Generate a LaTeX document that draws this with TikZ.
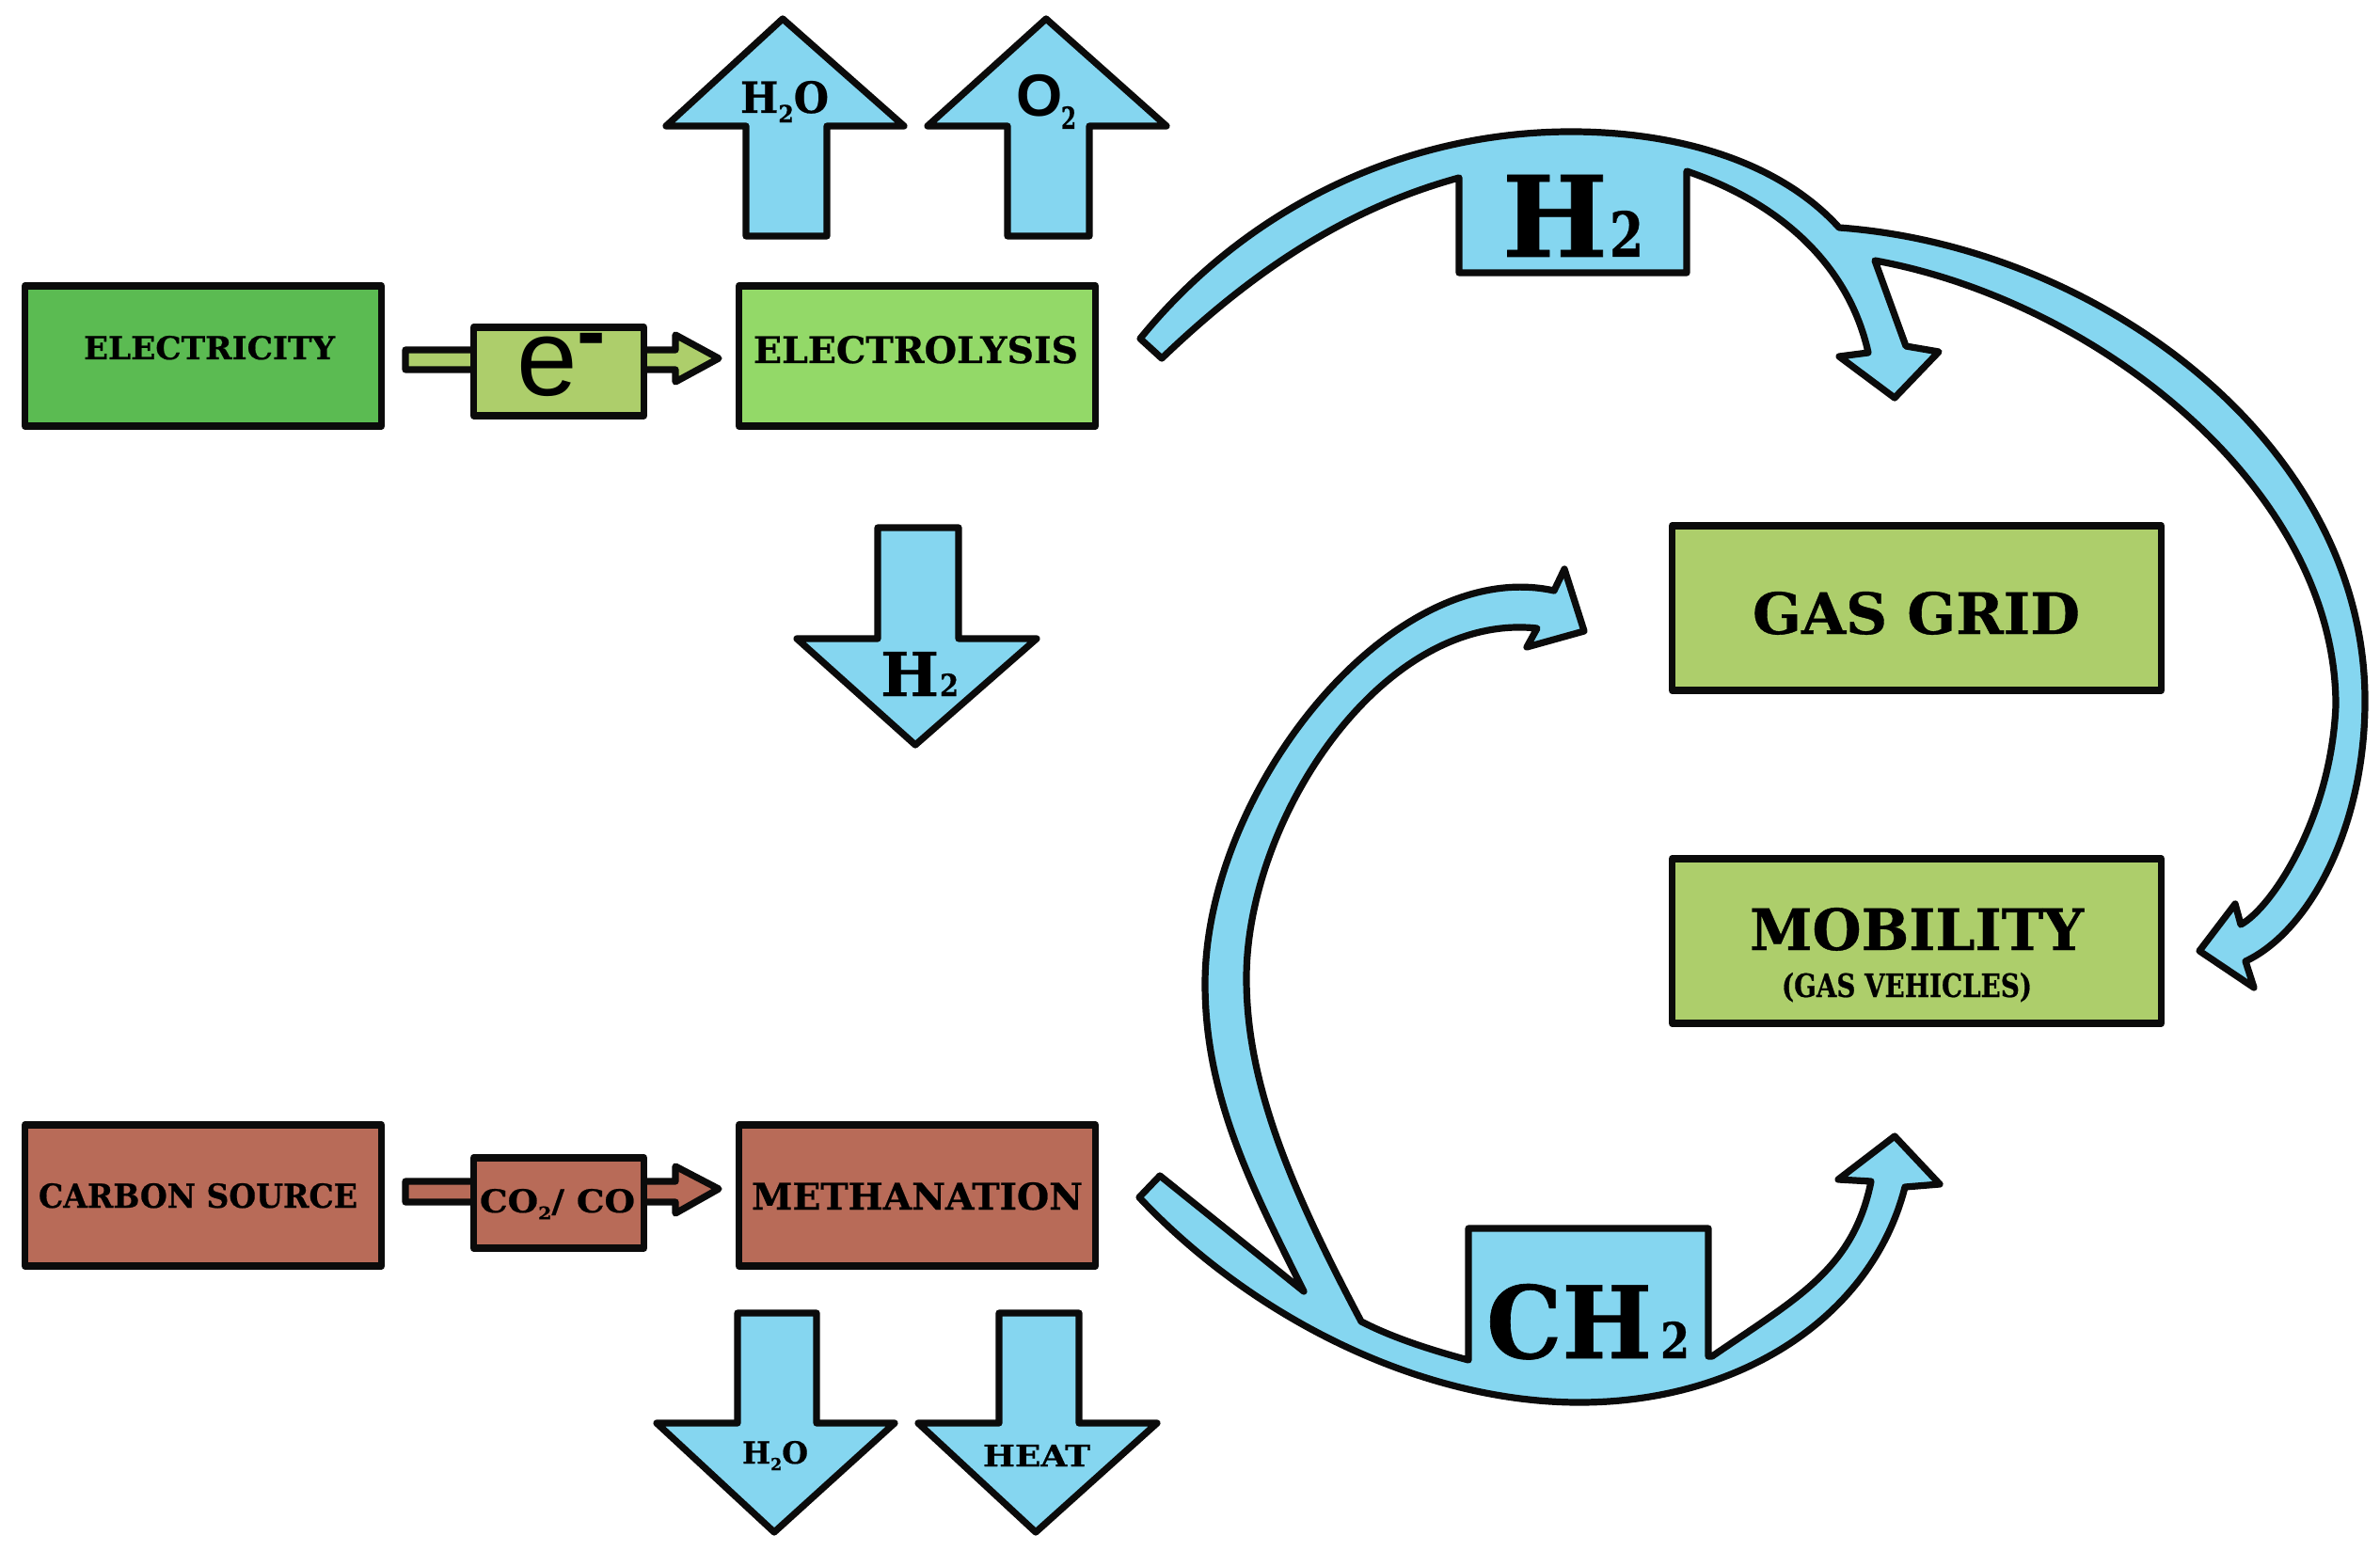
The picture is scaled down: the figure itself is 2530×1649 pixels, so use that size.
\documentclass[tikz,border=0pt]{standalone}
\usepackage{fontspec}
\usepackage{graphicx}
\setmainfont[BoldFeatures={FakeBold=0.6}]{DejaVu Serif}
\newfontfamily\sansf{Liberation Sans}
\newlength\pxu
\setlength\pxu{0.01cm}
\definecolor{flowblue}{HTML}{85D6F0}
\definecolor{darkgreen}{HTML}{5BBB52}
\definecolor{lightgreen}{HTML}{93D968}
\definecolor{olive}{HTML}{ADCE6B}
\definecolor{brick}{HTML}{B86B58}
\definecolor{ink}{HTML}{0B0B0B}
% name, x, baseline y, width, height, text
\newcommand{\lblfit}[6]{\node[lbl] (#1) at (#2,#3) {\resizebox{#4\pxu}{#5\pxu}{\bfseries #6}};}
\newcommand{\subtwo}{\raisebox{-.22em}{\scalebox{.55}{2}}}
\begin{document}
\begin{tikzpicture}[x=0.01cm,y=-0.01cm,
  lbl/.style={anchor=base west,inner sep=0pt,outer sep=0pt,text=black},
  stroke/.style={draw=ink,line width=0.072cm,line join=round,line cap=round},
  box/.style={stroke,rectangle,inner sep=0pt,outer sep=0pt},
  flow/.style={stroke,fill=flowblue}]
\useasboundingbox (0,0) rectangle (2530,1649);

% main process boxes
\node[box,fill=darkgreen,minimum width=3.79cm,minimum height=1.49cm] (electricity) at (216,378.5) {};
\node[box,fill=lightgreen,minimum width=3.79cm,minimum height=1.49cm] (electrolysis) at (975,378.5) {};
\node[box,fill=brick,minimum width=3.79cm,minimum height=1.50cm] (carbon) at (216,1271) {};
\node[box,fill=brick,minimum width=3.79cm,minimum height=1.50cm] (methanation) at (975,1271) {};
\node[box,fill=olive,minimum width=5.20cm,minimum height=1.75cm] (grid) at (2037.5,646.5) {};
\node[box,fill=olive,minimum width=5.20cm,minimum height=1.75cm] (mobility) at (2037.5,1000.5) {};

% small horizontal arrows with their boxes
\draw[stroke,fill=olive] (431,372) -- (718,372) -- (718,356) -- (764,381) -- (718,406) -- (718,393) -- (431,393) -- cycle;
\node[box,fill=olive,minimum width=1.81cm,minimum height=0.94cm] (eminus) at (594,395) {};
\draw[stroke,fill=brick] (431,1256) -- (718,1256) -- (718,1240) -- (764,1264) -- (718,1290) -- (718,1278) -- (431,1278) -- cycle;
\node[box,fill=brick,minimum width=1.81cm,minimum height=0.96cm] (cobox) at (594,1279) {};

% straight block arrows
\draw[flow] (832,20) -- (961,134) -- (879,134) -- (879,251) -- (793,251) -- (793,134) -- (708,134) -- cycle;
\draw[flow] (1112,20) -- (1240,134) -- (1158,134) -- (1158,251) -- (1071,251) -- (1071,134) -- (986,134) -- cycle;
\draw[flow] (933,561) -- (1019,561) -- (1019,679) -- (1102,679) -- (973,792) -- (847,679) -- (933,679) -- cycle;
\draw[flow] (784,1396) -- (868,1396) -- (868,1513) -- (951,1513) -- (823,1629) -- (698,1513) -- (784,1513) -- cycle;
\draw[flow] (1062,1396) -- (1147,1396) -- (1147,1513) -- (1230,1513) -- (1101,1629) -- (976,1513) -- (1062,1513) -- cycle;

% upper H2 flow
\draw[flow] (1212,360)
  .. controls (1330,215) and (1500,140) .. (1670,140)
  .. controls (1780,140) and (1890,170) .. (1955,242)
  .. controls (2230,262) and (2514,470) .. (2514,745)
  .. controls (2514,880) and (2455,990) .. (2387,1022)
  -- (2396,1050) -- (2338,1011) -- (2376,961) -- (2382,983)
  .. controls (2415,965) and (2478,870) .. (2483,750)
  .. controls (2483,520) and (2230,320) .. (1993,277)
  -- (2026,368) -- (2061,374) -- (2014,423) -- (1955,379) -- (1986,375)
  .. controls (1965,280) and (1890,215) .. (1793,182)
  -- (1793,290) -- (1551,290) -- (1551,189)
  .. controls (1430,222) and (1330,290) .. (1235,381)
  -- cycle;

% lower CH2 flow
\draw[flow] (1233,1250) -- (1211,1273)
  .. controls (1330,1400) and (1510,1491) .. (1679,1491)
  .. controls (1850,1491) and (1990,1400) .. (2025,1262)
  -- (2062,1259) -- (2014,1208) -- (1954,1254) -- (1989,1256)
  .. controls (1970,1350) and (1910,1380) .. (1820,1442)
  -- (1816,1442) -- (1816,1306) -- (1561,1306) -- (1561,1446)
  .. controls (1520,1435) and (1480,1422) .. (1447,1405)
  .. controls (1370,1260) and (1325,1150) .. (1325,1040)
  .. controls (1325,870) and (1470,650) .. (1634,668)
  -- (1623,688) -- (1684,671) -- (1663,605) -- (1652,628)
  .. controls (1480,590) and (1281,840) .. (1281,1046)
  .. controls (1281,1170) and (1335,1270) .. (1386,1373)
  -- cycle;

% labels
\lblfit{tElectricity}{89}{382}{267}{25}{ELECTRICITY}
\lblfit{tElectrolysis}{801}{386}{345}{29}{ELECTROLYSIS}
\lblfit{tCarbon}{41}{1284}{339}{26}{CARBON SOURCE}
\lblfit{tMethanation}{799}{1286}{352}{29}{METHANATION}
\lblfit{tGrid}{1863}{674}{348}{45}{GAS GRID}
\lblfit{tMobility}{1860}{1010}{355}{45}{MOBILITY}
\lblfit{tVehicles}{1894}{1060}{266}{26}{(GAS VEHICLES)}
\lblfit{tCO}{510}{1289}{165}{25}{CO\subtwo/ CO}
\lblfit{tWaterUp}{787}{120}{94}{34}{H\subtwo O}
\lblfit{tWaterDown}{789}{1556}{70}{24}{H\subtwo O}
\lblfit{tHeat}{1045}{1559}{114}{23}{HEAT}
\node[lbl,font=\sansf\bfseries\fontsize{18}{18}\selectfont] (tOxy) at (1080,124) {O};
\lblfit{tOxyTwo}{1128}{137}{16}{24}{2}
\lblfit{tHdown}{936}{740}{62}{47}{H}
\lblfit{tHdownTwo}{999}{740}{20}{24}{2}
\lblfit{tHbig}{1597}{273}{112}{87}{H}
\lblfit{tHbigTwo}{1711}{273}{36}{49}{2}
\lblfit{tCH}{1580}{1444}{176}{79}{CH}
\lblfit{tCHTwo}{1765}{1444}{31}{39}{2}
\node[lbl,font=\sansf\fontsize{33}{33}\selectfont] (tElectron) at (549,421) {e\raisebox{0.32em}{\fontsize{26}{26}\selectfont\bfseries -}};
\end{tikzpicture}
\end{document}
